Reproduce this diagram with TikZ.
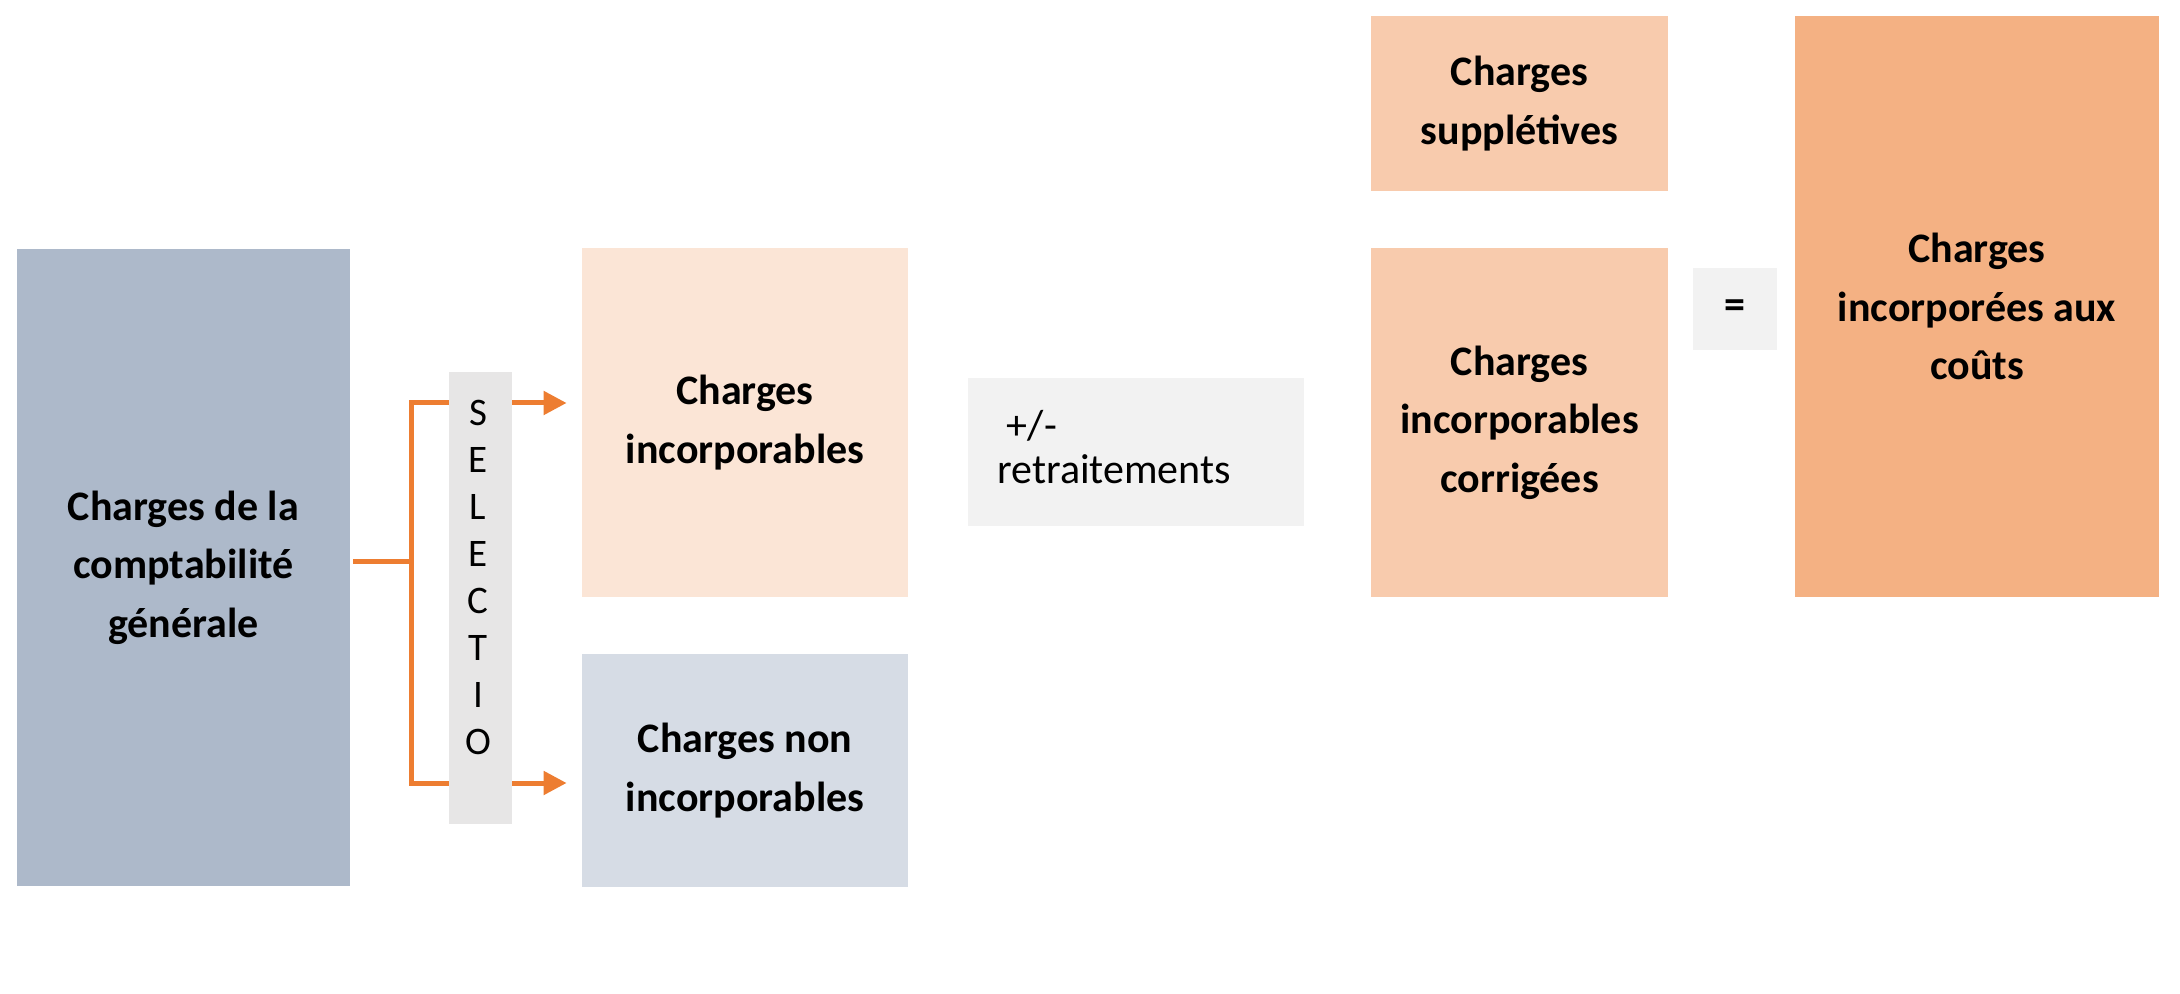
\documentclass[tikz,border=0pt]{standalone}
\usepackage{fontspec}
\setmainfont{Carlito}
\usetikzlibrary{arrows.meta,calc}
\definecolor{genc}{HTML}{ADB9CA}
\definecolor{selc}{HTML}{E7E6E6}
\definecolor{incc}{HTML}{FBE5D6}
\definecolor{nonc}{HTML}{D6DCE5}
\definecolor{greyc}{HTML}{F2F2F2}
\definecolor{corrc}{HTML}{F8CBAD}
\definecolor{totc}{HTML}{F4B183}
\definecolor{orangec}{HTML}{ED7D31}
\begin{document}
\begin{tikzpicture}[x=0.5pt,y=-0.5pt,
  box/.style={rectangle, inner sep=0pt, draw=none, align=center,
    font=\bfseries\fontsize{21}{29.3}\selectfont},
  conn/.style={draw=orangec, line width=2.5pt},
  arr/.style={conn, -{Triangle[length=11.5pt,width=11.5pt]}}]
\useasboundingbox[fill=white] (0,0) rectangle (2180,994);
\node[box, fill=genc, minimum width=166.5pt, minimum height=318.5pt] (gen) at (183.5,567.5)
  {Charges de la\\comptabilité\\générale};
\node[box, fill=selc, minimum width=31.5pt, minimum height=226pt] (sel) at (480.5,598) {};
\node[inner sep=0pt, align=center, font=\fontsize{19.5}{23.5}\selectfont] (selt) at (478,577)
  {S\\E\\L\\E\\C\\T\\I\\O};
\node[box, fill=incc, minimum width=163pt, minimum height=174.5pt] (inc) at (745,422.5)
  {Charges\\incorporables};
\node[box, fill=nonc, minimum width=163pt, minimum height=116.5pt] (noninc) at (745,770.5)
  {Charges non\\incorporables};
\node[fill=greyc, minimum width=168pt, minimum height=74pt, inner sep=0pt] (retr) at (1136,452) {};
\node[inner sep=0pt, align=left, anchor=west, font=\fontsize{21}{22}\selectfont] (retrt)
  at (997,447) {\ +/-\\retraitements};
\node[box, fill=corrc, minimum width=148.5pt, minimum height=87.5pt] (supp) at (1519.5,103.5)
  {Charges\\supplétives};
\node[box, fill=corrc, minimum width=148.5pt, minimum height=174.5pt] (corr) at (1519.5,422.5)
  {Charges\\incorporables\\corrigées};
\node[box, fill=greyc, minimum width=42pt, minimum height=41pt] (eq) at (1735,309) {=};
\node[box, fill=totc, minimum width=182pt, minimum height=290.5pt] (tot) at (1977,306.5)
  {Charges\\incorporées aux\\coûts};
\coordinate (j) at (411,561);
\coordinate (jt) at (411,403);
\coordinate (jb) at (411,783);
\draw[conn, shorten <=1.5pt] (gen.east |- j) -- (j);
\draw[conn] (jt -| sel.west) -- (jt) -- (jb) -- (jb -| sel.west);
\draw[arr, shorten >=7.5pt] (sel.east |- jt) -- (inc.west |- jt);
\draw[arr, shorten >=7.5pt] (sel.east |- jb) -- (noninc.west |- jb);
\end{tikzpicture}
\end{document}
